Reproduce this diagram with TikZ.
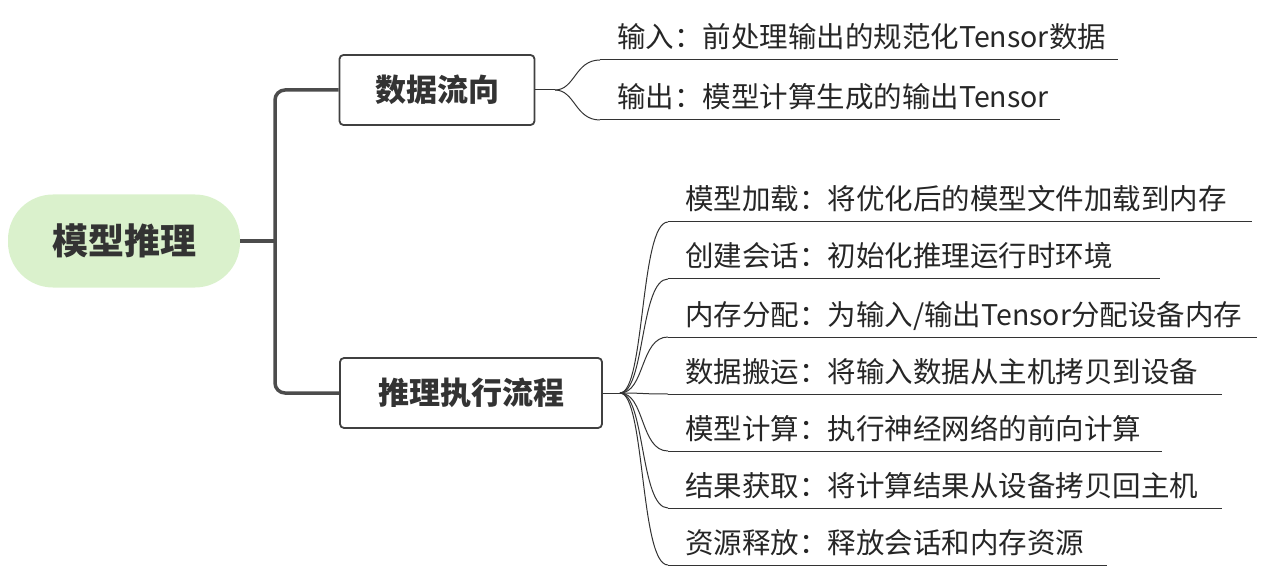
\documentclass[tikz,border=0pt]{standalone}
\usepackage{fontspec}
\setmainfont{Noto Sans CJK SC}
\begin{document}
\begin{tikzpicture}[x=1pt,y=-1pt,
  trunk/.style={line width=3.5pt,color=black!70,rounded corners=10pt},
  box/.style={draw=black!75,line width=1.8pt,rounded corners=4pt,font=\bfseries\fontsize{31}{34}\selectfont,text=black!80,inner sep=0pt},
  leaf/.style={anchor=base west,font=\fontsize{28.5}{32}\selectfont,text=black!85,inner sep=0pt},
  uline/.style={line width=1pt,color=black!80},
  conn/.style={line width=1pt,color=black!80}]
\useasboundingbox (0,0) rectangle (1279,577);
\node[fill=green!45!olive!20!white,rounded corners=45pt,minimum width=232pt,minimum height=93pt,font=\bfseries\fontsize{36}{40}\selectfont,text=black!80] (root) at (124,241) {模型推理};
\node[box,minimum width=195pt,minimum height=70pt] (b1) at (437,90) {数据流向};
\node[box,minimum width=262pt,minimum height=70pt] (b2) at (471,393) {推理执行流程};
\coordinate (j) at (275,241);
\draw[trunk] (root.east) -- (j);
\draw[trunk] (b1.west) -- (275,90) -- (275,393) -- (b2.west);
% branch 1
\coordinate (c1) at (555,90);
\draw[conn] (b1.east) -- (c1);
\foreach \i/\y/\e/\t in {1/60/1118/{输入：前处理输出的规范化Tensor数据}, 2/120/1060/{输出：模型计算生成的输出Tensor}}{
  \coordinate (s\i) at (600,\y);
  \coordinate (e\i) at (\e,\y);
  \draw[uline] (s\i) -- (e\i);
  \node[leaf] (l\i) at (617,\y-12) {\t};
  \draw[conn] (c1) .. controls (575,90) and (575,\y) .. (s\i);
}
% branch 2
\coordinate (c2) at (620,393);
\draw[conn] (b2.east) -- (c2);
\foreach \i/\y/\e/\t in {
 3/222/1252/{模型加载：将优化后的模型文件加载到内存},
 4/279/1160/{创建会话：初始化推理运行时环境},
 5/337/1257/{内存分配：为输入/输出Tensor分配设备内存},
 6/394/1222/{数据搬运：将输入数据从主机拷贝到设备},
 7/451/1162/{模型计算：执行神经网络的前向计算},
 8/508/1222/{结果获取：将计算结果从设备拷贝回主机},
 9/565/1107/{资源释放：释放会话和内存资源}}{
  \coordinate (s\i) at (668,\y);
  \coordinate (e\i) at (\e,\y);
  \draw[uline] (s\i) -- (e\i);
  \node[leaf] (l\i) at (685,\y-12) {\t};
  \draw[conn] (c2) .. controls (645,393) and (640,\y) .. (s\i);
}
\end{tikzpicture}
\end{document}
